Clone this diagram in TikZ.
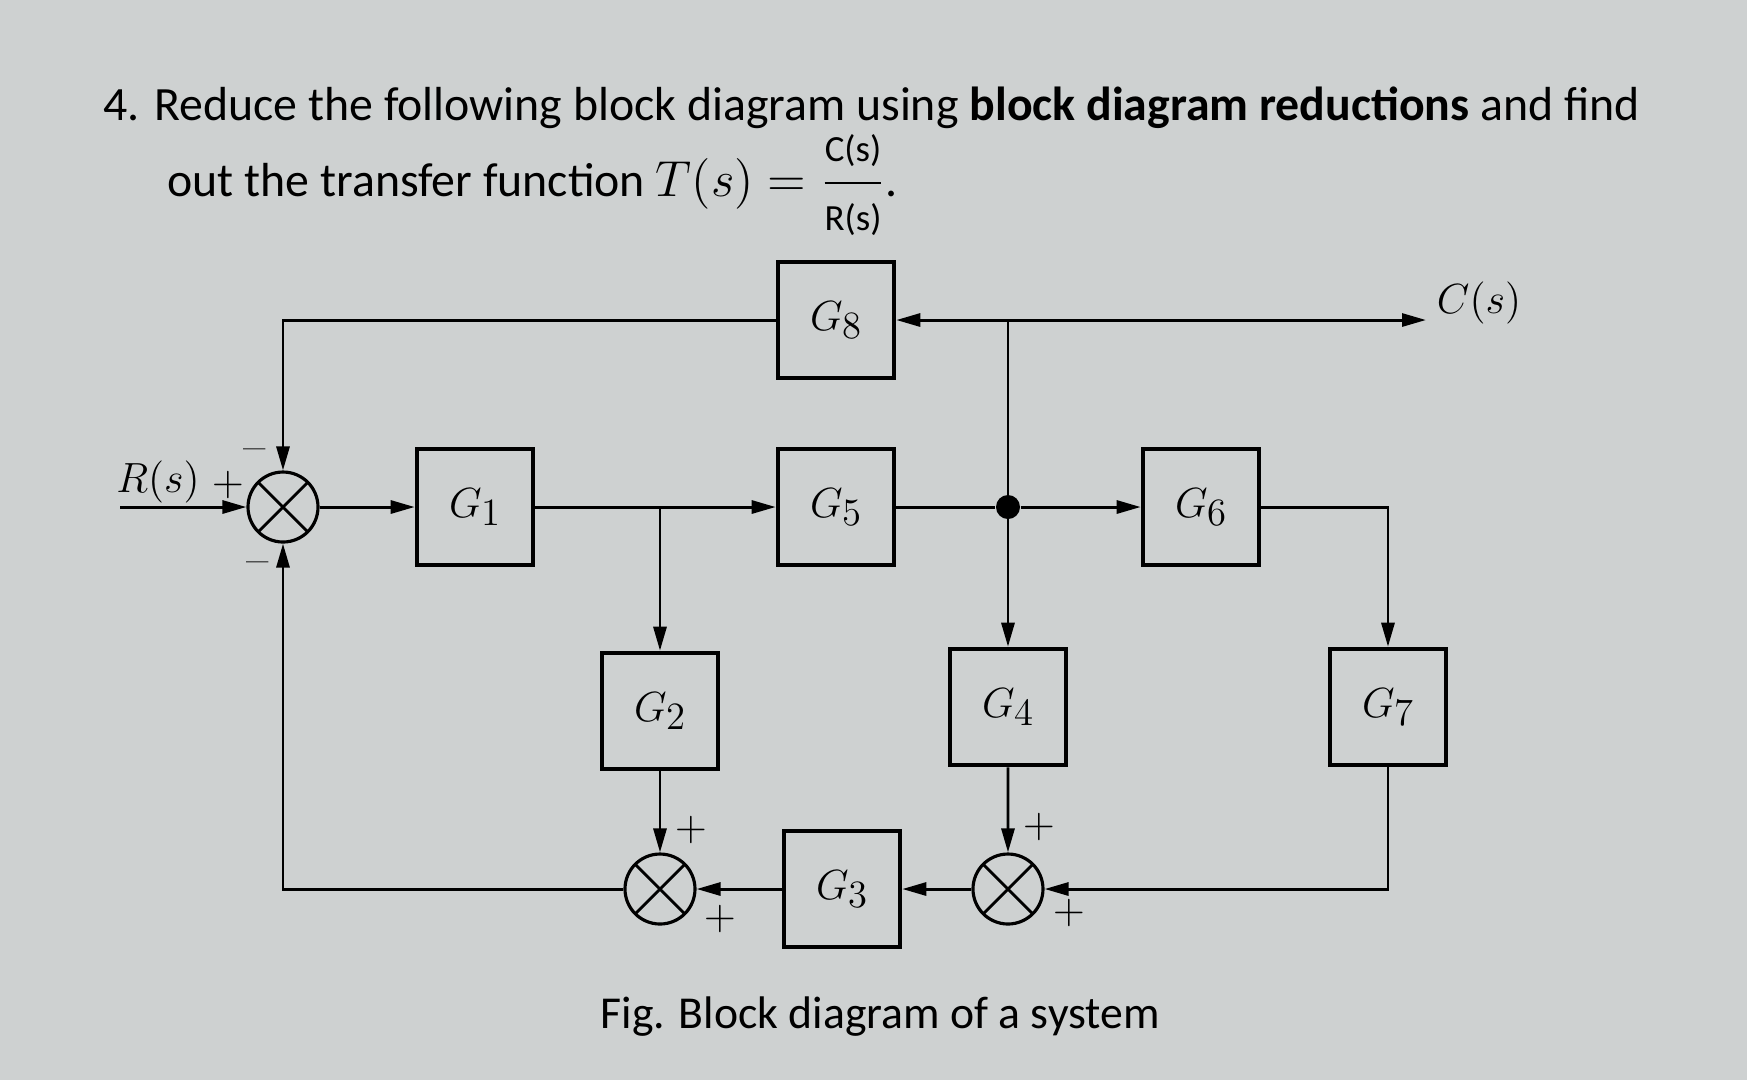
\documentclass[tikz,border=0pt]{standalone}
\usepackage{amsmath}
\usepackage{fontspec}
\usepackage{tikz}
\usetikzlibrary{positioning,arrows.meta}
\newfontfamily\calib{Carlito}
\definecolor{screen}{RGB}{206,209,209}
\newcommand{\gb}[1]{$G$\raisebox{-0.8mm}{\fontsize{11}{12}\selectfont #1}}

\begin{document}
\begin{tikzpicture}[x=0.1mm, y=-0.1mm, on grid,
	blk/.style={draw, line width=1.3pt, minimum size=11.6mm, inner sep=0pt, font=\fontsize{13}{15}\selectfont},
	sumj/.style={draw, circle, line width=0.9pt, minimum size=7mm, inner sep=0pt,
		path picture={\draw[line width=0.8pt] (path picture bounding box.north west) -- (path picture bounding box.south east)
			(path picture bounding box.north east) -- (path picture bounding box.south west);}},
	sgn/.style={font=\fontsize{13}{15}\selectfont, inner sep=0pt},
	sig/.style={line width=0.85pt, -{Triangle[length=2.4mm,width=1.3mm]}},
	wire/.style={line width=0.85pt},
	txt/.style={inner sep=0pt, font=\calib\fontsize{13.6}{16}\selectfont}]
	\fill[screen] (0,0) rectangle (1747,1080);
	\useasboundingbox (0,0) rectangle (1747,1080);
	
	% question
	\node[txt, anchor=base west] (q1) at (103,120) {4. Reduce the following block diagram using \textbf{block diagram reductions} and find};
	\node[txt, anchor=base west] (q2) at (167,196) {out the transfer function $T(s) = \dfrac{\text{\calib\fontsize{10.5}{11}\selectfont C(s)}}{\text{\calib\fontsize{10.5}{11}\selectfont R(s)}}$.};
	
	% blocks
	\node[sumj] (s1) at (283,507) {};
	\node[blk, right=19.2mm of s1] (g1) {\gb{1}};
	\coordinate[right=18.5mm of g1] (b1);
	\node[blk, right=36.1mm of g1] (g5) {\gb{5}};
	\node[fill, circle, minimum size=2.4mm, inner sep=0pt, right=17.2mm of g5] (d) {};
	\node[blk, right=19.3mm of d] (g6) {\gb{6}};
	\node[blk, above=18.7mm of g5] (g8) {\gb{8}};
	\node[blk, below=20.4mm of b1, anchor=center] (g2) {\gb{2}};
	\node[blk, below=20mm of d] (g4) {\gb{4}};
	\node[blk, right=38mm of g4] (g7) {\gb{7}};
	\node[sumj, below=17.8mm of g2] (s2) {};
	\node[blk, right=18.2mm of s2] (g3) {\gb{3}};
	\node[sumj, right=16.6mm of g3] (s3) {};
	
	\coordinate (t) at (d |- g8);
	\coordinate[right=41.8mm of t] (c);
	\coordinate[left=16.3mm of s1] (r);
	\node[sgn, above right=1.7mm and 5.3mm of c, anchor=center] (cl) {$C(s)$};
	\node[sgn, above right=2.5mm and 3.8mm of r, anchor=center] (rl) {$R(s)$};
	
	% signs
	\node[sgn] (p1) at ([shift={(-55,-22)}]s1) {$+$};
	\node[sgn] (m1) at ([shift={(-28,-52)}]s1) {--};
	\node[sgn] (m2) at ([shift={(-25,61)}]s1) {--};
	\node[sgn] (p2) at ([shift={(31,-59)}]s2) {$+$};
	\node[sgn] (p3) at ([shift={(60,30)}]s2) {$+$};
	\node[sgn] (p4) at ([shift={(31,-62)}]s3) {$+$};
	\node[sgn] (p5) at ([shift={(61,24)}]s3) {$+$};
	
	% signals
	\draw[sig] (r) -- (s1);
	\draw[sig] (s1) -- (g1);
	\draw[sig] (g1) -- (g5);
	\draw[sig] (b1) -- (g2);
	\draw[wire] (g5) -- (d);
	\draw[sig] (d) -- (g6);
	\draw[sig] (t) -- (g8);
	\draw[sig] (t) -- (c);
	\draw[sig] (t) -- (g4);
	\draw[sig] (g8) -| (s1);
	\draw[sig] (g6) -| (g7);
	\draw[sig] (g7) |- (s3);
	\draw[sig] (g4) -- (s3);
	\draw[sig] (s3) -- (g3);
	\draw[sig] (g3) -- (s2);
	\draw[sig] (g2) -- (s2);
	\draw[sig] (s2) -| (s1);
	
	\node[txt, anchor=base west, font=\calib\fontsize{13}{15}\selectfont] (cap) at (600,1028) {Fig. Block diagram of a system};
\end{tikzpicture}
\end{document}
